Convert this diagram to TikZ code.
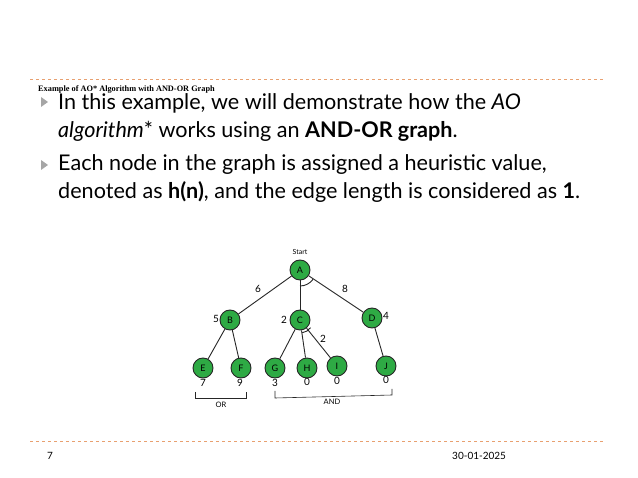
\documentclass[tikz,border=0pt]{standalone}
\usepackage{fontspec}
\setmainfont{Lato}
\newfontfamily\titlefont{Liberation Serif}
\usetikzlibrary{arrows.meta,calc}
\definecolor{ngreen}{HTML}{2EAA44}
\definecolor{dashor}{HTML}{E8A070}
\tikzset{
  gnode/.style={circle,draw=black!85,line width=0.9pt,fill=ngreen,minimum size=20pt,inner sep=0pt,font=\fontsize{9}{9}\selectfont},
  lbl/.style={font=\fontsize{10}{10}\selectfont,inner sep=1pt},
  edge/.style={line width=0.9pt,black!85},
  btext/.style={anchor=west,font=\fontsize{21.6}{28}\selectfont,inner sep=0pt,align=left},
  bul/.style={fill=gray!70,draw=none}
}
\begin{document}
\begin{tikzpicture}[x=1pt,y=-1pt]
\useasboundingbox (0,0) rectangle (638,478);
\draw[dashor,dashed,line width=0.6pt] (30,79) -- (605,79);
\draw[dashor,dashed,line width=0.6pt] (30,441) -- (605,441);
\node[anchor=west,inner sep=0pt,font=\titlefont\bfseries\fontsize{8.3}{8.3}\selectfont] (title) at (38,89) {Example of AO* Algorithm with AND-OR Graph};
\fill[bul] (41,97) -- (48,102) -- (41,107) -- cycle;
\fill[bul] (41,160) -- (48,165) -- (41,170) -- cycle;
\node[btext,anchor=north west] (t1) at (58,93) {In this example, we will demonstrate how the \textit{AO}\\\textit{algorithm}* works using an \textbf{AND-OR graph}.};
\node[btext,anchor=north west] (t2) at (58,154) {Each node in the graph is assigned a heuristic value,\\denoted as \textbf{h(n)}, and the edge length is considered as \textbf{1}.};
\node[anchor=west,inner sep=0pt,font=\fontsize{10}{10}\selectfont] (pg) at (47,456) {7};
\node[anchor=west,inner sep=0pt,font=\fontsize{10}{10}\selectfont] (dt) at (452,456) {30-01-2025};

\node[gnode] (A) at (300,270) {A};
\node[gnode] (B) at (230,320) {B};
\node[gnode] (C) at (300,320) {C};
\node[gnode] (D) at (372,318) {D};
\node[gnode] (E) at (203,368) {E};
\node[gnode] (F) at (241,368) {F};
\node[gnode] (G) at (275,368) {G};
\node[gnode] (H) at (307,368) {H};
\node[gnode] (I) at (337,366) {I};
\node[gnode] (J) at (386,366) {J};
\foreach \a/\b in {A/B,A/C,A/D,B/E,B/F,C/G,C/H,C/I,D/J} \draw[edge] (\a) -- (\b);
\draw[edge] ($(A)!16pt!(C)$) arc[start angle=-90,end angle=-36,radius=16pt];
\draw[edge] ($(C)!13pt!(H)$) arc[start angle=-82,end angle=-36,radius=13pt];
\node[lbl,font=\fontsize{7}{7}\selectfont] (st) at (300,252) {Start};
\node[lbl] (l6) at (258,289) {6};
\node[lbl] (l8) at (345,289) {8};
\node[lbl] (l5) at (216,319) {5};
\node[lbl] (l2) at (284,320) {2};
\node[lbl] (l4) at (386,316) {4};
\node[lbl] (l2b) at (323,339) {2};
\node[lbl] (v7) at (203,383) {7};
\node[lbl] (v9) at (240,383) {9};
\node[lbl] (v3) at (275,383) {3};
\node[lbl] (v0a) at (307,382) {0};
\node[lbl] (v0b) at (337,381) {0};
\node[lbl] (v0c) at (386,380) {0};
\draw[edge,line width=0.6pt] (195,392) -- (195,398) -- (246,398) -- (246,392);
\draw[edge,line width=0.6pt] (275,391) -- (275,398) -- (392,395) -- (392,389);
\node[lbl,font=\fontsize{7.5}{7.5}\selectfont] (or) at (221,405) {OR};
\node[lbl,font=\fontsize{7.5}{7.5}\selectfont] (and) at (332,402) {AND};
\end{tikzpicture}
\end{document}
